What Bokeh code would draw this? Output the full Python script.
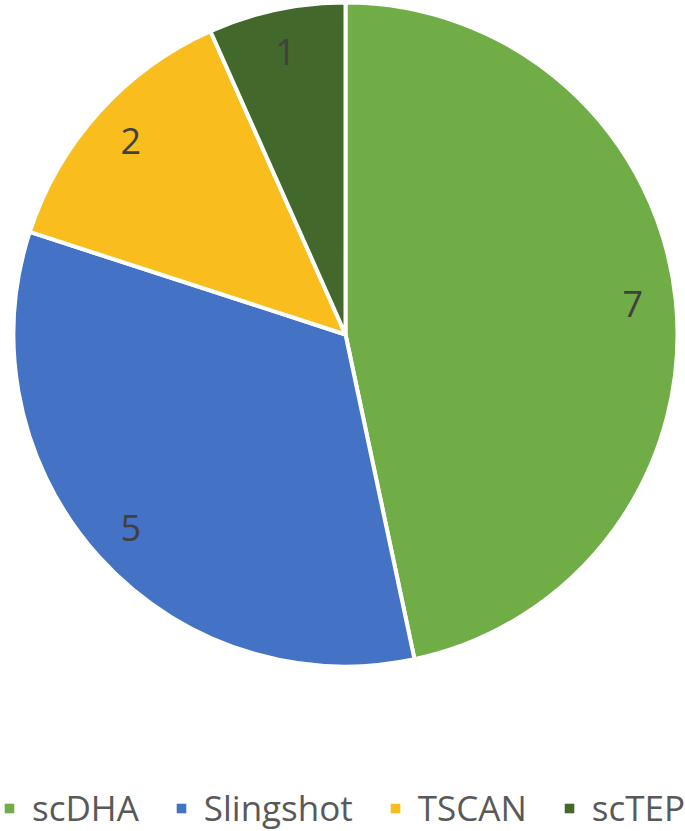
import math
from bokeh.plotting import figure
from bokeh.models import Range1d, Legend, LegendItem, ColumnDataSource
from bokeh.core.properties import value
from bokeh.embed import file_html
from bokeh.resources import INLINE

# data
categories = ["scDHA", "Slingshot", "TSCAN", "scTEP"]
counts = [7, 5, 2, 1]
colors = ["#70AD47", "#4472C4", "#F9BD1D", "#43682B"]

# layout
W, H = 685, 831
CX, CY, R = 345, 497, 332
LABEL_FRAC = 0.87

total = sum(counts)
starts, ends, lx, ly = [], [], [], []
cum = 0
for c in counts:
    a_end = math.pi / 2 - cum / total * 2 * math.pi
    cum += c
    a_start = math.pi / 2 - cum / total * 2 * math.pi
    starts.append(a_start)
    ends.append(a_end)
    mid = (a_start + a_end) / 2
    lx.append(CX + LABEL_FRAC * R * math.cos(mid))
    ly.append(CY + LABEL_FRAC * R * math.sin(mid))

src = ColumnDataSource(dict(cat=categories, count=counts, color=colors,
                            start=starts, end=ends, lx=lx, ly=ly,
                            txt=[str(c) for c in counts]))

p = figure(width=W, height=H, x_range=Range1d(0, W), y_range=Range1d(0, H),
           x_axis_type=None, y_axis_type=None, toolbar_location=None,
           output_backend="svg", min_border=0, outline_line_color=None)
p.grid.visible = False

p.wedge(x=CX, y=CY, radius=R, start_angle="start", end_angle="end",
        fill_color="color", line_color="white", line_width=4, source=src)

p.text(x="lx", y="ly", text="txt", source=src, text_align="center",
       text_baseline="middle", text_font=value("Open Sans"),
       text_font_size="36px", text_color="#404040")

# legend swatches (not drawn on plot area)
nan = float("nan")
leg_src = ColumnDataSource(dict(x=[nan] * len(categories), y=[nan] * len(categories),
                                color=colors))
sw = p.rect(x="x", y="y", width=1, height=1, fill_color="color", line_color=None,
            source=leg_src)

legend = Legend(items=[LegendItem(label=c, renderers=[sw], index=i)
                       for i, c in enumerate(categories)],
                orientation="horizontal", location=(3, 0),
                glyph_width=12, glyph_height=12, label_standoff=17, spacing=36,
                label_text_font="Open Sans", label_text_font_size="35px",
                label_text_color="#595959", padding=0, margin=0,
                border_line_color=None, background_fill_alpha=0)
p.add_layout(legend, "center")

open("out.html", "w").write(file_html(p, INLINE))
